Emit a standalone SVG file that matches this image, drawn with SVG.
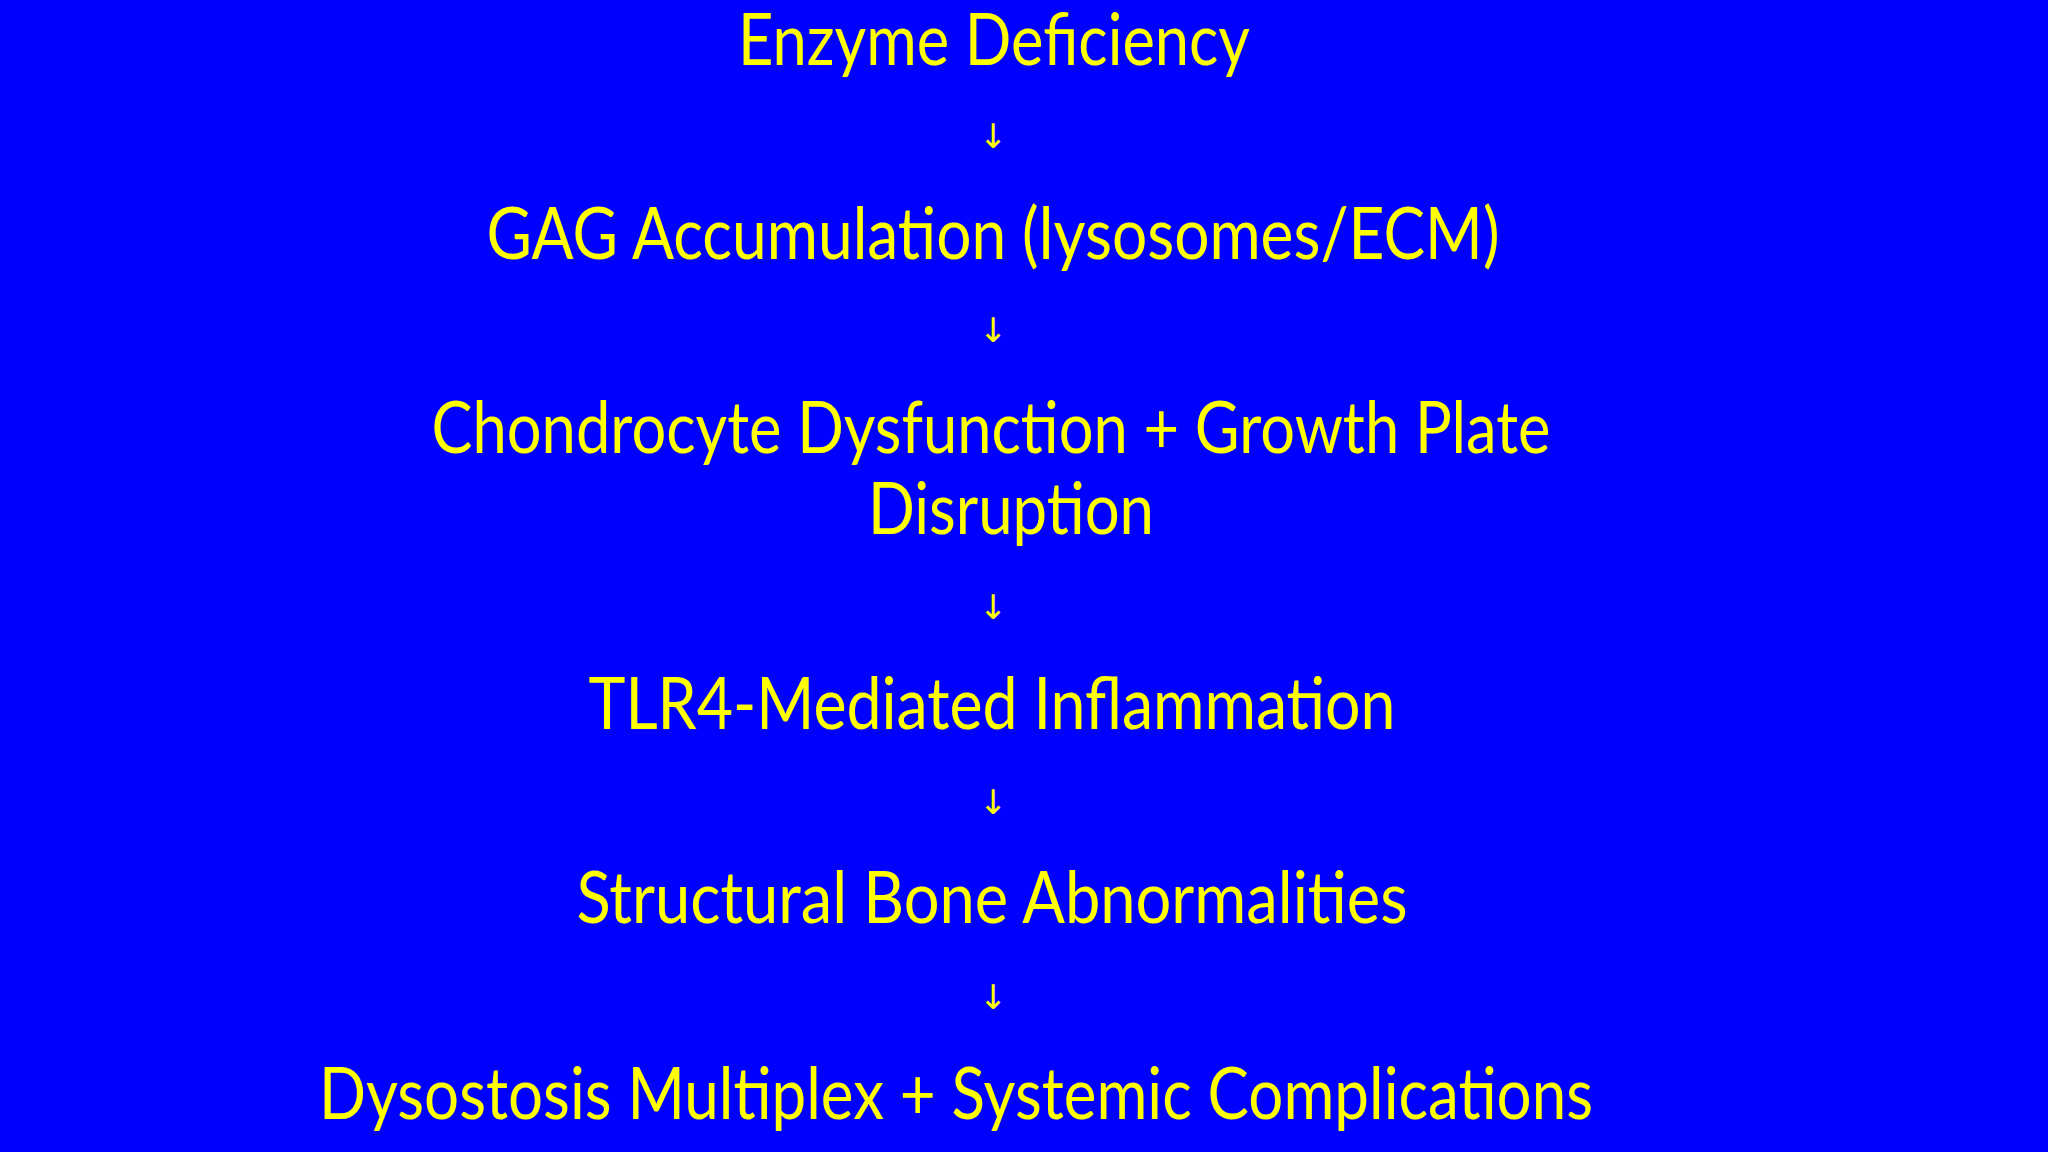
<svg xmlns="http://www.w3.org/2000/svg" width="2048" height="1152" viewBox="0 0 2048 1152">
<style>
.t{font-family:Lato,"Liberation Sans",sans-serif;font-size:72px;fill:#FFFF00;text-anchor:middle}
.a{font-family:"DejaVu Sans",sans-serif;font-size:34px;fill:#FFFF00;text-anchor:middle}
</style>
<rect width="2048" height="1152" fill="#0000FF"/>
<g id="n1"><text class="t" x="994" y="65" textLength="512" lengthAdjust="spacingAndGlyphs">Enzyme Deficiency</text></g>
<g id="n2"><text class="t" x="993" y="259" textLength="1013" lengthAdjust="spacingAndGlyphs">GAG Accumulation (lysosomes/ECM)</text></g>
<g id="n3"><text class="t" x="991" y="453" textLength="1119" lengthAdjust="spacingAndGlyphs">Chondrocyte Dysfunction + Growth Plate</text><text class="t" x="1011" y="534" textLength="286" lengthAdjust="spacingAndGlyphs">Disruption</text></g>
<g id="n4"><text class="t" x="992" y="729" textLength="807" lengthAdjust="spacingAndGlyphs">TLR4-Mediated Inflammation</text></g>
<g id="n5"><text class="t" x="992" y="923" textLength="831" lengthAdjust="spacingAndGlyphs">Structural Bone Abnormalities</text></g>
<g id="n6"><text class="t" x="956" y="1119" textLength="1274" lengthAdjust="spacingAndGlyphs">Dysostosis Multiplex + Systemic Complications</text></g>
<g id="connectors">
<text class="a" x="993" y="148">↓</text>
<text class="a" x="993" y="342">↓</text>
<text class="a" x="993" y="619">↓</text>
<text class="a" x="993" y="814">↓</text>
<text class="a" x="993" y="1009">↓</text>
</g>
</svg>
